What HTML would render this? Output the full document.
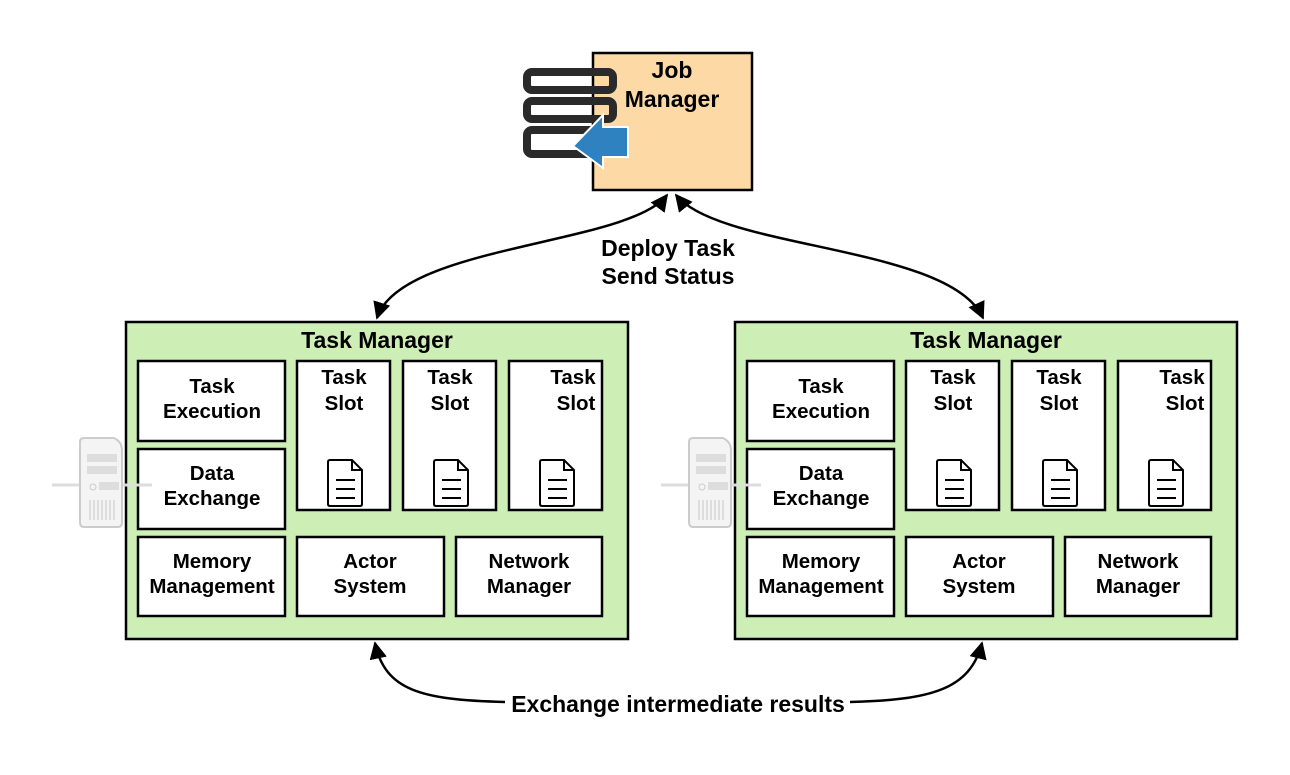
<!DOCTYPE html>
<html><head><meta charset="utf-8"><style>
html,body{margin:0;padding:0;background:#fff;}
svg{display:block;}
text{font-family:"Liberation Sans",Arial,sans-serif;font-weight:bold;fill:#000;}
</style></head><body>
<svg width="1290" height="775" viewBox="0 0 1290 775" xmlns="http://www.w3.org/2000/svg">
<defs>
<marker id="ah" viewBox="0 0 10 10" refX="9" refY="5" markerWidth="7" markerHeight="7" orient="auto-start-reverse" markerUnits="strokeWidth">
<path d="M0,0 L10,5 L0,10 z" fill="#000"/></marker>
<g id="doc">
<path d="M0,2 Q0,0 2,0 L24,0 L34,10 L34,44 Q34,46 32,46 L2,46 Q0,46 0,44 Z" fill="#fff" stroke="#000" stroke-width="2"/>
<path d="M24,0 L24,10 L34,10" fill="none" stroke="#000" stroke-width="2"/>
<line x1="8" y1="20" x2="27" y2="20" stroke="#000" stroke-width="2"/>
<line x1="8" y1="29" x2="27" y2="29" stroke="#000" stroke-width="2"/>
<line x1="8" y1="38" x2="27" y2="38" stroke="#000" stroke-width="2"/>
</g>
<g id="srv">
<line x1="0" y1="485" x2="28" y2="485" stroke="#ddd" stroke-width="3"/>
<line x1="70" y1="485" x2="100" y2="485" stroke="#ddd" stroke-width="3"/>
<path d="M28,442 Q28,438 32,438 L62,438 Q70,442 70,450 L70,522 Q70,527 66,527 L32,527 Q28,527 28,522 Z" fill="#f4f4f4" stroke="#ccc" stroke-width="2"/>
<rect x="35" y="454" width="30" height="8" fill="#ddd"/>
<rect x="35" y="466" width="30" height="8" fill="#ddd"/>
<rect x="47" y="482" width="20" height="8" fill="#ddd"/>
<circle cx="41" cy="487" r="3" fill="none" stroke="#ccc"/>
<path d="M38,500 v20 M42,500 v20 M46,500 v20 M50,500 v20 M54,500 v20 M58,500 v20 M62,500 v20" stroke="#ddd" stroke-width="2"/>
</g>
<g id="tm">
<rect x="126" y="322" width="502" height="317" fill="#cdeeb5" stroke="#000" stroke-width="2.5"/>
<text x="377" y="348" font-size="23" text-anchor="middle">Task Manager</text>
<g fill="#fff" stroke="#000" stroke-width="2.5">
<rect x="138" y="361" width="147" height="80"/>
<rect x="138" y="449" width="147" height="80"/>
<rect x="297" y="361" width="93" height="149"/>
<rect x="403" y="361" width="93" height="149"/>
<rect x="509" y="361" width="93" height="149"/>
<rect x="138" y="537" width="147" height="79"/>
<rect x="297" y="537" width="147" height="79"/>
<rect x="456" y="537" width="146" height="79"/>
</g>
<g font-size="20.5" text-anchor="middle">
<text x="212" y="393">Task</text><text x="212" y="418">Execution</text>
<text x="212" y="480">Data</text><text x="212" y="505">Exchange</text>
<text x="344" y="384">Task</text><text x="344" y="410">Slot</text>
<text x="450" y="384">Task</text><text x="450" y="410">Slot</text>
<text x="573" y="384">Task</text><text x="576" y="410">Slot</text>
<text x="212" y="568">Memory</text><text x="212" y="593">Management</text>
<text x="370" y="568">Actor</text><text x="370" y="593">System</text>
<text x="529" y="568">Network</text><text x="529" y="593">Manager</text>
</g>
<use href="#doc" x="328" y="460"/>
<use href="#doc" x="434" y="460"/>
<use href="#doc" x="540" y="460"/>
<use href="#srv" x="52" y="0"/>
</g>
</defs>

<!-- Job manager -->
<rect x="593" y="53" width="159" height="137" fill="#fdd9a6" stroke="#000" stroke-width="2.5"/>
<g fill="none" stroke="#2a2a2a" stroke-width="8">
<rect x="527" y="72" width="86" height="18" rx="5"/>
<rect x="527" y="101" width="86" height="18" rx="5"/>
<rect x="527" y="130" width="86" height="24" rx="5"/>
</g>
<path d="M573,146 L603,115 L603,127 L628,127 L628,157 L603,157 L603,168 Z" fill="#2e82c0" stroke="#fff" stroke-width="2"/>
<text x="672" y="78" font-size="23" text-anchor="middle">Job</text>
<text x="672" y="107" font-size="23" text-anchor="middle">Manager</text>

<use href="#tm"/>
<use href="#tm" x="609"/>

<!-- connectors -->
<path d="M667,195 C630,245 400,245 377,318" fill="none" stroke="#000" stroke-width="2.5" marker-start="url(#ah)" marker-end="url(#ah)"/>
<path d="M676,195 C720,250 950,245 983,318" fill="none" stroke="#000" stroke-width="2.5" marker-start="url(#ah)" marker-end="url(#ah)"/>
<text x="668" y="256" font-size="23" text-anchor="middle">Deploy Task</text>
<text x="668" y="284" font-size="23" text-anchor="middle">Send Status</text>

<path d="M505,702 C420,700 385,690 375,643" fill="none" stroke="#000" stroke-width="2.5" marker-end="url(#ah)"/>
<path d="M850,702 C930,700 970,690 982,643" fill="none" stroke="#000" stroke-width="2.5" marker-end="url(#ah)"/>
<text x="678" y="712" font-size="23" text-anchor="middle">Exchange intermediate results</text>
</svg>
</body></html>
